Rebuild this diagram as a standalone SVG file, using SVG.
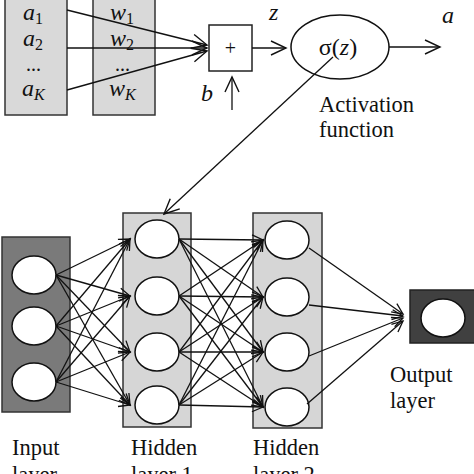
<svg xmlns="http://www.w3.org/2000/svg" width="474" height="474" viewBox="0 0 474 474">
<defs>
<style>
.bx{fill:#d9d9d9;stroke:#333;stroke-width:1.5}
.nd{fill:#fff;stroke:#111;stroke-width:1.5}
.ln{stroke:#111;stroke-width:1.3;fill:none}
.tx{font-family:"Liberation Serif",serif;fill:#111}
.lb{font-size:22.5px}
.mt{font-family:"Liberation Serif",serif;font-style:italic;fill:#111;font-size:24px}
.sb{font-style:normal;font-size:16px}
.sk{font-size:16px}
</style>
<marker id="ah" markerWidth="14" markerHeight="12" refX="12" refY="6" orient="auto" markerUnits="userSpaceOnUse">
<path d="M1,1 L12,6 L1,11" fill="none" stroke="#111" stroke-width="1.3"/>
</marker>
<marker id="ahb" markerWidth="18" markerHeight="16" refX="16" refY="8" orient="auto" markerUnits="userSpaceOnUse">
<path d="M1,1 L16,8 L1,15" fill="none" stroke="#111" stroke-width="1.4"/>
</marker>
</defs>

<g id="inputs-a">
<rect class="bx" x="5" y="-5" width="62" height="120"/>
<text class="mt" x="23" y="20">a<tspan class="sb" dy="4">1</tspan></text>
<text class="mt" x="23" y="46">a<tspan class="sb" dy="4">2</tspan></text>
<text class="tx" x="26" y="71" font-size="20">...</text>
<text class="mt" x="22" y="96">a<tspan class="sk" dy="4">K</tspan></text>
</g>
<g id="weights-w">
<rect class="bx" x="93" y="-5" width="62" height="120"/>
<text class="mt" x="110" y="20">w<tspan class="sb" dy="4">1</tspan></text>
<text class="mt" x="110" y="46">w<tspan class="sb" dy="4">2</tspan></text>
<text class="tx" x="115" y="71" font-size="20">...</text>
<text class="mt" x="109" y="96">w<tspan class="sk" dy="4">K</tspan></text>
</g>
<g id="sum">
<rect x="209" y="25" width="43" height="46" fill="#fff" stroke="#222" stroke-width="1.5"/>
<text class="tx" x="230.5" y="55" font-size="20" text-anchor="middle">+</text>
</g>
<g id="bias">
<text class="mt" x="201" y="101">b</text>
</g>
<g id="activation">
<ellipse cx="340" cy="47" rx="49" ry="32" fill="#fff" stroke="#111" stroke-width="1.5"/>
<text class="tx" x="338" y="55" font-size="24" text-anchor="middle">σ(<tspan font-style="italic">z</tspan>)</text>
<text class="tx lb" x="319" y="112">Activation</text>
<text class="tx lb" x="319" y="137">function</text>
</g>
<g id="labels-z-a">
<text class="mt" x="269" y="20">z</text>
<text class="mt" x="442" y="23">a</text>
</g>

<g id="input-layer">
<rect x="2" y="237" width="68" height="175" fill="#7a7a7a" stroke="#333" stroke-width="1.5"/>
<ellipse class="nd" cx="34" cy="275" rx="22" ry="19"/>
<ellipse class="nd" cx="34" cy="326" rx="22" ry="19"/>
<ellipse class="nd" cx="34" cy="382" rx="22" ry="19"/>
<text class="tx lb" x="12" y="455">Input</text>
<text class="tx lb" x="12" y="482">layer</text>
</g>
<g id="hidden-layer-1">
<rect x="123" y="213" width="68" height="214" fill="#d6d6d6" stroke="#333" stroke-width="1.5"/>
<ellipse class="nd" cx="157" cy="239" rx="22" ry="19"/>
<ellipse class="nd" cx="157" cy="296" rx="22" ry="19"/>
<ellipse class="nd" cx="157" cy="352" rx="22" ry="19"/>
<ellipse class="nd" cx="157" cy="405" rx="22" ry="19"/>
<text class="tx lb" x="131" y="455">Hidden</text>
<text class="tx lb" x="131" y="482">layer 1</text>
</g>
<g id="hidden-layer-2">
<rect x="253" y="213" width="69" height="215" fill="#d6d6d6" stroke="#333" stroke-width="1.5"/>
<ellipse class="nd" cx="287" cy="240" rx="22" ry="19"/>
<ellipse class="nd" cx="287" cy="297" rx="22" ry="19"/>
<ellipse class="nd" cx="287" cy="352" rx="22" ry="19"/>
<ellipse class="nd" cx="287" cy="407" rx="22" ry="19"/>
<text class="tx lb" x="253" y="455">Hidden</text>
<text class="tx lb" x="253" y="482">layer 2</text>
</g>
<g id="output-layer">
<rect x="410" y="290" width="66" height="53" fill="#404040" stroke="#222" stroke-width="1.5"/>
<ellipse class="nd" cx="443" cy="318" rx="22" ry="19"/>
<text class="tx lb" x="390" y="382">Output</text>
<text class="tx lb" x="390" y="408">layer</text>
</g>

<g id="connectors">
<path class="ln" marker-end="url(#ahb)" d="M67,10 L207,45"/>
<path class="ln" marker-end="url(#ahb)" d="M67,48 L207,48"/>
<path class="ln" marker-end="url(#ahb)" d="M67,90 L207,51"/>
<path class="ln" marker-end="url(#ahb)" d="M232,110 L232,77"/>
<path class="ln" marker-end="url(#ahb)" d="M252,48 L286,48"/>
<path class="ln" marker-end="url(#ahb)" d="M389,47 L440,47"/>
<path class="ln" marker-end="url(#ahb)" d="M333,57 L164,214"/>

<path class="ln" marker-end="url(#ah)" d="M56,275 L130,239"/>
<path class="ln" marker-end="url(#ah)" d="M56,275 L130,296"/>
<path class="ln" marker-end="url(#ah)" d="M56,275 L130,352"/>
<path class="ln" marker-end="url(#ah)" d="M56,275 L130,405"/>
<path class="ln" marker-end="url(#ah)" d="M56,326 L130,239"/>
<path class="ln" marker-end="url(#ah)" d="M56,326 L130,296"/>
<path class="ln" marker-end="url(#ah)" d="M56,326 L130,352"/>
<path class="ln" marker-end="url(#ah)" d="M56,326 L130,405"/>
<path class="ln" marker-end="url(#ah)" d="M56,382 L130,239"/>
<path class="ln" marker-end="url(#ah)" d="M56,382 L130,296"/>
<path class="ln" marker-end="url(#ah)" d="M56,382 L130,352"/>
<path class="ln" marker-end="url(#ah)" d="M56,382 L130,405"/>

<path class="ln" marker-end="url(#ah)" d="M179,239 L263,240"/>
<path class="ln" marker-end="url(#ah)" d="M179,239 L263,297"/>
<path class="ln" marker-end="url(#ah)" d="M179,239 L263,352"/>
<path class="ln" marker-end="url(#ah)" d="M179,239 L263,407"/>
<path class="ln" marker-end="url(#ah)" d="M179,296 L263,240"/>
<path class="ln" marker-end="url(#ah)" d="M179,296 L263,297"/>
<path class="ln" marker-end="url(#ah)" d="M179,296 L263,352"/>
<path class="ln" marker-end="url(#ah)" d="M179,296 L263,407"/>
<path class="ln" marker-end="url(#ah)" d="M179,352 L263,240"/>
<path class="ln" marker-end="url(#ah)" d="M179,352 L263,297"/>
<path class="ln" marker-end="url(#ah)" d="M179,352 L263,352"/>
<path class="ln" marker-end="url(#ah)" d="M179,352 L263,407"/>
<path class="ln" marker-end="url(#ah)" d="M179,405 L263,240"/>
<path class="ln" marker-end="url(#ah)" d="M179,405 L263,297"/>
<path class="ln" marker-end="url(#ah)" d="M179,405 L263,352"/>
<path class="ln" marker-end="url(#ah)" d="M179,405 L263,407"/>

<path class="ln" marker-end="url(#ah)" d="M309,248 L403,314"/>
<path class="ln" marker-end="url(#ah)" d="M309,305 L403,316"/>
<path class="ln" marker-end="url(#ah)" d="M309,356 L403,318"/>
<path class="ln" marker-end="url(#ah)" d="M307,404 L403,321"/>
</g>
</svg>
